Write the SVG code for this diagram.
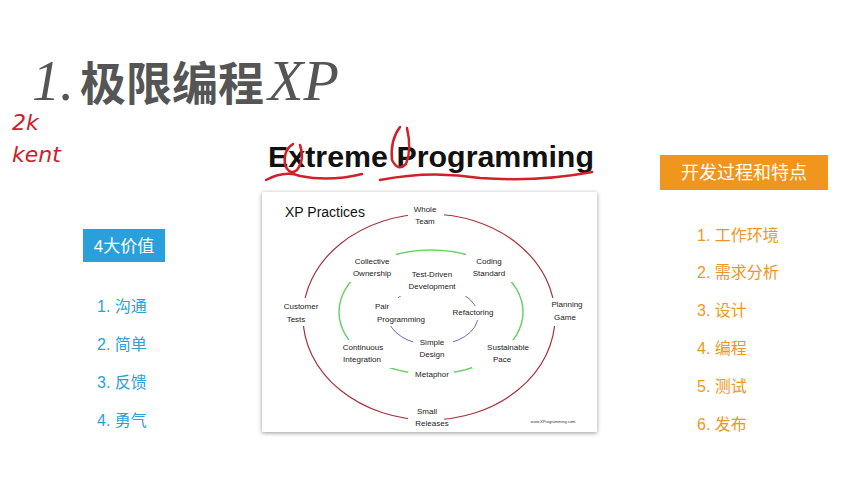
<svg xmlns="http://www.w3.org/2000/svg" width="864" height="486" viewBox="0 0 864 486">
<defs>
<style>
.hw{font-family:"Liberation Sans",sans-serif;font-size:8px;fill:#222;text-anchor:middle}
.bl{font-family:"Liberation Sans","Noto Sans CJK SC",sans-serif;font-size:16px;fill:#2a9fdc}
.or{font-family:"Liberation Sans","Noto Sans CJK SC",sans-serif;font-size:16px;fill:#f0961e}
.red{fill:none;stroke:#d0202a;stroke-width:2.5;stroke-linecap:round}
.bg{fill:#fff}
</style>
<filter id="sh" x="-5%" y="-5%" width="110%" height="110%"><feDropShadow dx="0" dy="1" stdDeviation="2" flood-opacity="0.4"/></filter>
</defs>
<rect width="864" height="486" fill="#fff"/>
<g id="title">
<text x="32" y="100" font-size="56" fill="#555" font-family="Liberation Serif,serif" font-style="italic">1.</text>
<text x="80" y="100" font-size="46" fill="#555" font-weight="bold" font-family="Noto Sans CJK SC,sans-serif">极限编程</text>
<text x="268" y="100" font-size="58" fill="#555" font-family="Liberation Serif,serif" font-style="italic">XP</text>
</g>
<g id="handwriting">
<text x="12" y="130" font-size="22" fill="#d0202a" font-family="DejaVu Sans,sans-serif" font-style="italic">2k</text>
<text x="12" y="162" font-size="22" fill="#d0202a" font-family="DejaVu Sans,sans-serif" font-style="italic">kent</text>
</g>
<g id="heading">
<text x="268" y="167" font-size="29" font-weight="bold" fill="#111" font-family="Liberation Sans,sans-serif" textLength="326" lengthAdjust="spacingAndGlyphs">Extreme Programming</text>
<path class="red" d="M266 180 Q285 170 300 176 Q330 182 362 174"/>
<path class="red" d="M293 144 Q283 150 285 165 Q290 176 297 170 Q305 160 300 145"/>
<path class="red" d="M400 127 Q390 140 392 160 Q398 172 406 164 Q412 150 407 128"/>
<path class="red" d="M380 180 Q430 170 480 178 Q540 182 592 172"/>
</g>
<g id="xp-practices">
<rect x="262" y="192" width="335" height="240" fill="#fff" filter="url(#sh)"/>
<text x="285" y="217" font-size="14" fill="#111" font-family="Liberation Sans,sans-serif">XP Practices</text>
<ellipse cx="429" cy="317" rx="126" ry="103" fill="none" stroke="#a8323c" stroke-width="1.2"/>
<ellipse cx="431" cy="312" rx="92" ry="62" fill="none" stroke="#6ccf6a" stroke-width="1.5"/>
<ellipse cx="433" cy="316" rx="45" ry="29" fill="none" stroke="#6a6aa8" stroke-width="1"/>
<rect class="bg" x="408" y="202" width="36" height="26"/>
<rect class="bg" x="278" y="298" width="42" height="28"/>
<rect class="bg" x="545" y="298" width="42" height="28"/>
<rect class="bg" x="408" y="402" width="36" height="28"/>
<rect class="bg" x="350" y="254" width="46" height="28"/>
<rect class="bg" x="466" y="254" width="46" height="28"/>
<rect class="bg" x="335" y="340" width="58" height="28"/>
<rect class="bg" x="472" y="340" width="62" height="28"/>
<rect class="bg" x="408" y="368" width="46" height="14"/>
<rect class="bg" x="398" y="270" width="70" height="26"/>
<rect class="bg" x="370" y="298" width="62" height="28"/>
<rect class="bg" x="448" y="306" width="50" height="14"/>
<rect class="bg" x="413" y="334" width="40" height="28"/>
<text class="hw"><tspan x="425" y="212">Whole</tspan><tspan x="425" y="224">Team</tspan></text>
<text class="hw"><tspan x="372" y="264">Collective</tspan><tspan x="372" y="276">Ownership</tspan></text>
<text class="hw"><tspan x="489" y="264">Coding</tspan><tspan x="489" y="276">Standard</tspan></text>
<text class="hw"><tspan x="432" y="277">Test-Driven</tspan><tspan x="432" y="289">Development</tspan></text>
<text class="hw"><tspan x="301" y="309">Customer</tspan><tspan x="296" y="322">Tests</tspan></text>
<text class="hw"><tspan x="567" y="307">Planning</tspan><tspan x="565" y="320">Game</tspan></text>
<text class="hw"><tspan x="382" y="309">Pair</tspan><tspan x="401" y="322">Programming</tspan></text>
<text class="hw"><tspan x="473" y="315">Refactoring</tspan></text>
<text class="hw"><tspan x="432" y="345">Simple</tspan><tspan x="432" y="357">Design</tspan></text>
<text class="hw"><tspan x="363" y="350">Continuous</tspan><tspan x="362" y="362">Integration</tspan></text>
<text class="hw"><tspan x="508" y="350">Sustainable</tspan><tspan x="502" y="362">Pace</tspan></text>
<text class="hw"><tspan x="432" y="377">Metaphor</tspan></text>
<text class="hw"><tspan x="427" y="414">Small</tspan><tspan x="432" y="426">Releases</tspan></text>
<text x="553" y="423" font-size="4" fill="#333" font-family="Liberation Sans,sans-serif" text-anchor="middle">www.XProgramming.com</text>
</g>
<g id="values">
<rect x="83" y="229" width="82" height="33" fill="#2a9fdc"/>
<text x="124" y="252" font-size="17" fill="#fff" text-anchor="middle" font-family="Liberation Sans,Noto Sans CJK SC,sans-serif">4大价值</text>
<text class="bl" x="97" y="312">1.  沟通</text>
<text class="bl" x="97" y="350">2.  简单</text>
<text class="bl" x="97" y="388">3.  反馈</text>
<text class="bl" x="97" y="426">4.  勇气</text>
</g>
<g id="process">
<rect x="660" y="155" width="168" height="35" fill="#f0961e"/>
<text x="744" y="179" font-size="18" fill="#fff" text-anchor="middle" font-family="Noto Sans CJK SC,sans-serif">开发过程和特点</text>
<text class="or" x="697" y="241">1.  工作环境</text>
<text class="or" x="697" y="278">2.  需求分析</text>
<text class="or" x="697" y="316">3.  设计</text>
<text class="or" x="697" y="354">4.  编程</text>
<text class="or" x="697" y="392">5.  测试</text>
<text class="or" x="697" y="430">6.  发布</text>
</g>
</svg>
